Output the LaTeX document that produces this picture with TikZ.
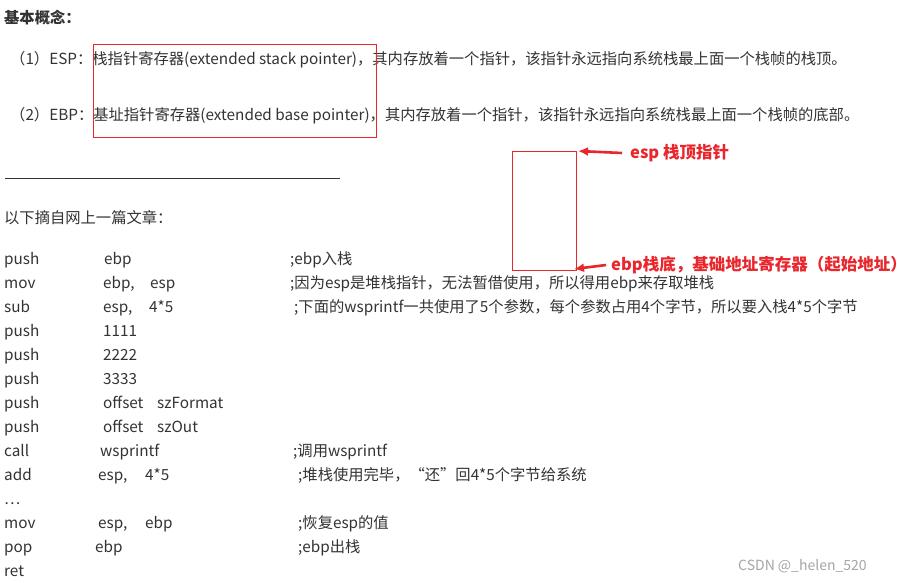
\documentclass[tikz,border=0pt]{standalone}
\usepackage{fontspec}
\usetikzlibrary{arrows.meta}
\setmainfont{Noto Sans CJK SC}
\definecolor{txt}{HTML}{333333}
\definecolor{rd}{HTML}{E8262C}
\begin{document}
\begin{tikzpicture}[x=1pt,y=-1pt,
  t/.style={anchor=base west,inner sep=0pt,text=txt,font=\fontsize{15.3}{15}\selectfont,yshift=-5.5pt},
  rl/.style={anchor=base west,inner sep=0pt,text=rd,font=\fontsize{16.5}{16}\selectfont\bfseries,yshift=-6pt},
  ar/.style={rd,line width=2.6pt,-{Latex[length=10pt,width=9pt]}}]
\useasboundingbox (0,0) rectangle (897,582);
\fill[white] (0,0) rectangle (897,582);
\node[t,font=\fontsize{15.3}{15}\selectfont\bfseries] (h) at (4,18) {基本概念：};
\node[t] (l1) at (10,59) {（1）ESP：栈指针寄存器(extended stack pointer)，其内存放着一个指针，该指针永远指向系统栈最上面一个栈帧的栈顶。};
\node[t] (l2) at (10,115) {（2）EBP：基址指针寄存器(extended base pointer)，其内存放着一个指针，该指针永远指向系统栈最上面一个栈帧的底部。};
\draw[rd,line width=0.8pt] (93,44) rectangle (376,137);
\draw[txt,line width=0.6pt] (5,178) -- (340,178);
\node[t] at (4,218) {以下摘自网上一篇文章：};
% stack
\draw[rd,line width=0.9pt] (512,151) rectangle (576,270);
\coordinate (stt) at (578,151);
\coordinate (sbb) at (574,269);
\node[rl] (esp) at (630,152) {esp 栈顶指针};
\node[rl] (ebp) at (611,264) {ebp栈底，基础地址寄存器（起始地址）};
\draw[ar] (622,153) -- (stt);
\draw[ar] (606,265) -- (sbb);
% code
\node[t] at (4,259) {push}; \node[t] at (104,259) {ebp}; \node[t] at (290,259) {;ebp入栈};
\node[t] at (4,283) {mov}; \node[t] at (103,283) {ebp,}; \node[t] at (150,283) {esp}; \node[t] at (290,283) {;因为esp是堆栈指针，无法暂借使用，所以得用ebp来存取堆栈};
\node[t] at (4,307) {sub}; \node[t] at (103,307) {esp,}; \node[t] at (149,307) {4*5}; \node[t] at (294,307) {;下面的wsprintf一共使用了5个参数，每个参数占用4个字节，所以要入栈4*5个字节};
\node[t] at (4,331) {push}; \node[t] at (103,331) {1111};
\node[t] at (4,355) {push}; \node[t] at (103,355) {2222};
\node[t] at (4,379) {push}; \node[t] at (103,379) {3333};
\node[t] at (4,403) {push}; \node[t] at (103,403) {offset}; \node[t] at (157,403) {szFormat};
\node[t] at (4,427) {push}; \node[t] at (103,427) {offset}; \node[t] at (157,427) {szOut};
\node[t] at (4,451) {call}; \node[t] at (100,451) {wsprintf}; \node[t] at (293,451) {;调用wsprintf};
\node[t] at (4,475) {add}; \node[t] at (98,475) {esp,}; \node[t] at (145,475) {4*5}; \node[t] at (298,475) {;堆栈使用完毕，“还”回4*5个字节给系统};
\node[t] at (4,499) {…};
\node[t] at (4,523) {mov}; \node[t] at (98,523) {esp,}; \node[t] at (145,523) {ebp}; \node[t] at (298,523) {;恢复esp的值};
\node[t] at (4,547) {pop}; \node[t] at (95,547) {ebp}; \node[t] at (298,547) {;ebp出栈};
\node[t] at (4,571) {ret};
\node[anchor=base west,inner sep=0pt,text=black!35,font=\fontsize{14}{14}\selectfont,yshift=-5pt] at (738,565) {CSDN @\_helen\_520};
\end{tikzpicture}
\end{document}
